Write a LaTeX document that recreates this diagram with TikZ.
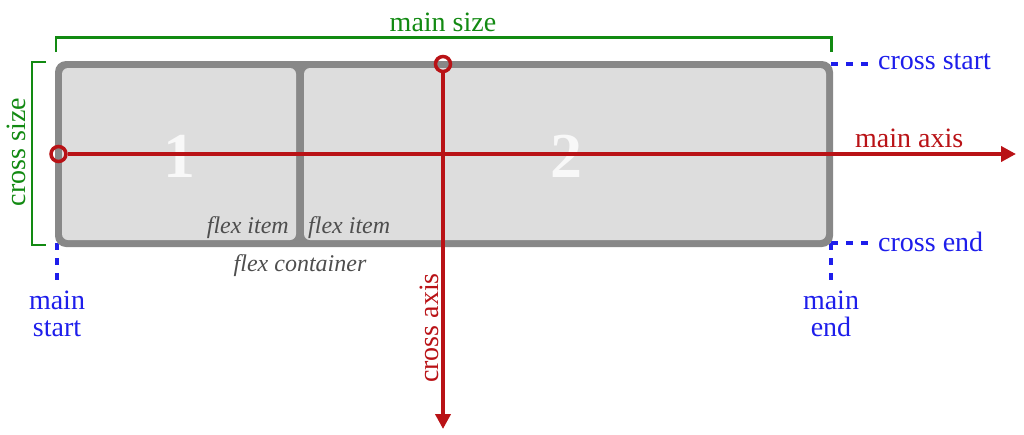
\documentclass[tikz,border=0pt]{standalone}
\usepackage{fontspec}
\setmainfont{Liberation Serif}
\usetikzlibrary{arrows.meta,positioning,calc}
\definecolor{boxgray}{RGB}{136,136,136}
\definecolor{itemfill}{RGB}{221,221,221}
\definecolor{numwhite}{RGB}{248,248,248}
\definecolor{axisred}{RGB}{185,18,22}
\definecolor{sizegreen}{RGB}{18,138,18}
\definecolor{edgeblue}{RGB}{30,30,235}
\definecolor{labelgray}{RGB}{78,78,78}

\begin{document}
\begin{tikzpicture}[x=1pt,y=-1pt,
        axis/.style={axisred,line width=4pt,-{Triangle[length=15pt,width=15pt]}},
        ring/.style={circle,draw=axisred,line width=3.5pt,minimum size=15pt,inner sep=0pt},
        bracket/.style={sizegreen,line width=2.5pt},
        edge/.style={edgeblue,line width=4.5pt,dash pattern=on 7pt off 8pt},
        lbl/.style={font=\fontsize{28}{27}\selectfont,inner sep=0pt},
        itemlbl/.style={font=\fontsize{24}{26}\selectfont\itshape,text=labelgray,inner sep=0pt},
        numlbl/.style={font=\fontsize{64}{64}\selectfont\bfseries,text=numwhite,inner sep=0pt}]
                \useasboundingbox (0,0) rectangle (1024,434);

                % corners of the container
                \coordinate (cnw) at (57,64);
                \coordinate (cne) at (831,64);
                \coordinate (csw) at (57,243);
                \coordinate (cse) at (831,243);

                % blue start / end marks
                \foreach \c in {csw,cse}
                {
                    \draw [edge] (\c) -- ($(\c)+(0,44)$);
                }
                \foreach \c in {cne,cse}
                {
                    \draw [edge] (\c) -- ($(\c)+(38,0)$);
                }

                % container and items
                \fill [boxgray,rounded corners=11pt] (55,61) rectangle (833,247);
                \fill [itemfill,rounded corners=6pt] (62,68) rectangle (296,240);
                \fill [itemfill,rounded corners=6pt] (304,68) rectangle (826,240);

                \node [numlbl,anchor=base] (numone) at (179,177) {1};
                \node [numlbl,anchor=base] (numtwo) at (566,177) {2};

                \node [itemlbl,anchor=base east] (itemone) at (289,233) {flex item};
                \node [itemlbl,anchor=base west] (itemtwo) at (308,233) {flex item};
                \node [itemlbl,anchor=base] (container) at (300,271) {flex container};

                % sizes
                \draw [bracket] (56,52) -- (56,37.5) -- (831.5,37.5) -- (831.5,52);
                \draw [bracket] (46,62) -- (32,62) -- (32,245) -- (46,245);
                \node [lbl,sizegreen,anchor=base] (mainsize) at (443,31) {main size};
                \node [lbl,sizegreen,anchor=base,rotate=90] (crosssize) at (25,152) {cross size};

                % axes
                \node [ring] (mainorigin) at (58.5,154) {};
                \node [ring] (crossorigin) at (443,64) {};
                \coordinate (mainhead) at (1016,154);
                \coordinate (crosshead) at (443,429);
                \draw [axis] (mainorigin) -- (mainhead);
                \draw [axis] (crossorigin) -- (crosshead);
                \node [lbl,axisred,anchor=base west] (mainaxis) at (855,147) {main axis};
                \node [lbl,axisred,anchor=base,rotate=90] (crossaxis) at (438,328) {cross axis};

                % start / end labels
                \node [lbl,edgeblue,anchor=base west] (crossstart) at (878,69) {cross start};
                \node [lbl,edgeblue,anchor=base west] (crossend) at (878,251) {cross end};
                \node [lbl,edgeblue,align=center,anchor=north] (mainstart) at (57,291) {main\\start};
                \node [lbl,edgeblue,align=center,anchor=north] (mainend) at (831,291) {main\\end};
\end{tikzpicture}
\end{document}
